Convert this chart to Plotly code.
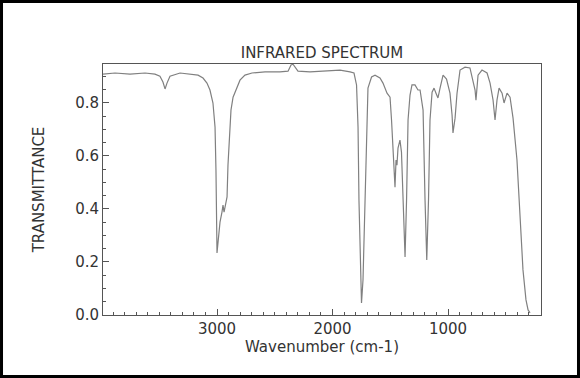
import plotly.graph_objects as go

wavenumber = [3987, 3883, 3753, 3623, 3537, 3494, 3468, 3450, 3433, 3407, 3320, 3234, 3164, 3121,
              3087, 3061, 3035, 3017, 3009, 3000, 2991, 2974, 2957, 2948, 2939, 2922, 2913, 2905,
              2892, 2879, 2861, 2835, 2801, 2758, 2697, 2584, 2455, 2385, 2359, 2342, 2325, 2299,
              2195, 2065, 1935, 1848, 1814, 1792, 1779, 1771, 1758, 1749, 1736, 1719, 1706, 1693,
              1662, 1632, 1589, 1563, 1528, 1502, 1489, 1476, 1468, 1459, 1450, 1442, 1433, 1416,
              1403, 1390, 1372, 1359, 1346, 1329, 1312, 1286, 1260, 1242, 1216, 1199, 1184, 1169,
              1156, 1138, 1121, 1104, 1087, 1069, 1043, 1013, 983, 965, 957, 939, 922, 896, 853,
              810, 784, 766, 758, 740, 706, 662, 636, 610, 593, 576, 558, 532, 515, 489, 463, 437,
              403, 377, 351, 325, 307, 290]
transmittance = [0.908, 0.912, 0.908, 0.912, 0.908, 0.900, 0.878, 0.852, 0.874, 0.900, 0.912, 0.908,
                 0.904, 0.893, 0.874, 0.848, 0.799, 0.708, 0.546, 0.234, 0.283, 0.350, 0.388, 0.414,
                 0.388, 0.433, 0.445, 0.565, 0.678, 0.772, 0.821, 0.848, 0.885, 0.904, 0.912, 0.916,
                 0.916, 0.919, 0.942, 0.945, 0.934, 0.919, 0.916, 0.919, 0.923, 0.916, 0.912, 0.867,
                 0.708, 0.433, 0.132, 0.045, 0.132, 0.433, 0.708, 0.855, 0.897, 0.904, 0.893, 0.874,
                 0.836, 0.821, 0.735, 0.595, 0.546, 0.482, 0.584, 0.565, 0.629, 0.659, 0.614, 0.433,
                 0.219, 0.433, 0.735, 0.829, 0.867, 0.867, 0.848, 0.848, 0.772, 0.433, 0.207, 0.433,
                 0.735, 0.840, 0.855, 0.836, 0.818, 0.855, 0.904, 0.889, 0.836, 0.754, 0.686, 0.742,
                 0.836, 0.923, 0.934, 0.931, 0.885, 0.848, 0.810, 0.904, 0.923, 0.912, 0.874, 0.810,
                 0.735, 0.810, 0.855, 0.836, 0.799, 0.836, 0.821, 0.742, 0.584, 0.396, 0.170, 0.057,
                 0.019, 0.008]

x_ticks = [3000, 2000, 1000]
y_ticks = [0.0, 0.2, 0.4, 0.6, 0.8]

FONT = "DejaVu Sans"
TXT = "#333333"

fig = go.Figure()
fig.add_trace(go.Scatter(x=wavenumber, y=transmittance, mode="lines",
                         line=dict(color="#808080", width=1.2), showlegend=False,
                         hoverinfo="skip"))

fig.update_layout(
    width=580, height=378,
    margin=dict(l=103, r=39, t=64, b=63),
    paper_bgcolor="white", plot_bgcolor="white",
    title=dict(text="INFRARED SPECTRUM", x=0.5, xref="paper", xanchor="center",
               y=0.86, yanchor="middle", font=dict(family=FONT, size=15, color=TXT)),
    font=dict(family=FONT, size=15, color=TXT),
    xaxis=dict(range=[3987, 195], tickvals=x_ticks, ticktext=[str(v) for v in x_ticks],
               ticks="inside", ticklen=6, tickcolor="#555", showgrid=False, zeroline=False,
               showline=True, mirror=True, linecolor="#555", linewidth=1,
               minor=dict(dtick=100, ticks="inside", ticklen=3, tickcolor="#555", showgrid=False),
               title=dict(text="Wavenumber (cm-1)", standoff=4, font=dict(size=15, color=TXT)),
               tickfont=dict(size=15, color=TXT)),
    yaxis=dict(range=[0, 0.946], tickvals=y_ticks, ticktext=["%.1f" % v for v in y_ticks],
               ticks="inside", ticklen=6, tickcolor="#555", showgrid=False, zeroline=False,
               showline=True, mirror=True, linecolor="#555", linewidth=1,
               minor=dict(dtick=0.05, ticks="inside", ticklen=3, tickcolor="#555", showgrid=False),
               title=dict(text="TRANSMITTANCE", standoff=26, font=dict(size=15, color=TXT)),
               tickfont=dict(size=15, color=TXT)),
    shapes=[dict(type="rect", xref="paper", yref="paper",
                 x0=-0.2317, x1=1.0856, y0=-0.245, y1=1.249,
                 line=dict(color="black", width=3), fillcolor="rgba(0,0,0,0)")],
)

fig.write_html("out.html", config={"displayModeBar": False, "staticPlot": True},
               post_script="document.body.style.margin='0';document.body.style.overflow='hidden';")
